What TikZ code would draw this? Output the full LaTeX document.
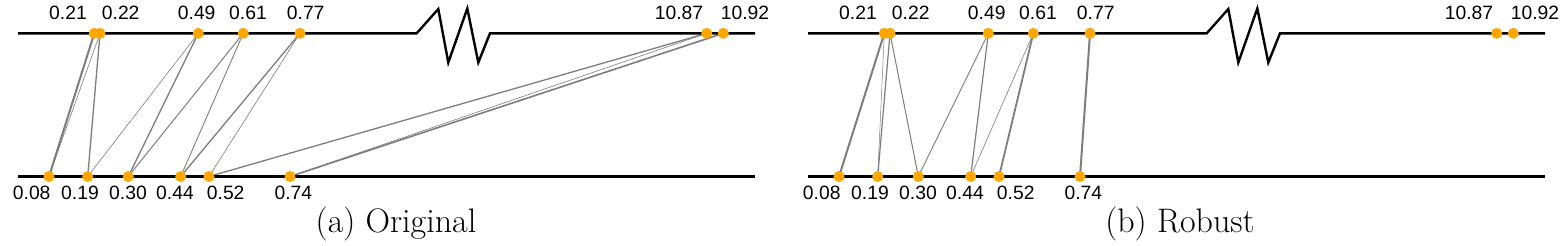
\documentclass[tikz,border=0pt]{standalone}
\usepackage{fontspec}
\newfontfamily\labelfont{Liberation Sans}
\usetikzlibrary{backgrounds}
\definecolor{dotorange}{RGB}{255,166,0}
\definecolor{linkgray}{RGB}{125,125,125}
\tikzset{
  axisline/.style={line width=2.4bp, black, line join=miter},
  dot/.style={circle, fill=dotorange, inner sep=0pt, minimum size=11bp},
  num/.style={font=\labelfont\fontsize{19.3bp}{21bp}\selectfont, anchor=base, inner sep=0pt},
  link/.style={draw=linkgray, line width=#1},
  captext/.style={font=\fontsize{34bp}{38bp}\selectfont, anchor=base, inner sep=0pt}
}
\newcommand\drawpanel[3]{%
\begin{scope}[xshift=#2]
  \draw[axisline] (18,33.3) -- (416.7,33.3) -- (438.3,9) -- (448.3,62.5) -- (467.3,8.5) -- (478.3,62.5) -- (490,33.3) -- (755,33.3);
  \draw[axisline] (18,176.5) -- (755,176.5);
  \foreach \n/\x/\lx/\t in {t021/94.3/68/0.21, t022/100/120.7/0.22, t049/198.3/196.7/0.49, t061/243.3/248/0.61, t077/300/305.7/0.77, t1087/706.7/679/10.87, t1092/723.3/745/10.92}{
    \node[dot] (#1\n) at (\x,33.3) {};
    \node[num] (#1\n l) at (\lx,19.3) {\t};
  }
  \foreach \n/\x/\lx/\t in {b008/49/31.7/0.08, b019/87.7/80/0.19, b030/128.3/128/0.30, b044/180.7/175/0.44, b052/209/225.7/0.52, b074/290/293.3/0.74}{
    \node[dot] (#1\n) at (\x,176.5) {};
    \node[num] (#1\n l) at (\lx,199) {\t};
  }
  \begin{pgfonlayer}{background}
    \foreach \s/\e/\w in {#3}{
      \draw[link=\w] (#1\s.center) -- (#1\e.center);
    }
  \end{pgfonlayer}
\end{scope}}
\begin{document}
\begin{tikzpicture}[x=1bp, y=-1bp]
  \useasboundingbox (0,0) rectangle (1568,245);
  \drawpanel{a}{0bp}{t021/b008/2bp, t022/b008/0.6bp, t022/b019/1.3bp, t049/b019/0.6bp, t049/b030/1.3bp, t061/b030/1.0bp, t061/b044/0.9bp, t077/b044/1.3bp, t077/b052/0.6bp, t1087/b052/1.3bp, t1087/b074/0.6bp, t1092/b074/1.6bp}
  \drawpanel{b}{790bp}{t021/b008/2bp, t021/b019/0.5bp, t022/b019/1.2bp, t022/b030/1.0bp, t049/b030/0.9bp, t049/b044/1.2bp, t061/b044/0.6bp, t061/b052/1.8bp, t077/b074/2bp}
  \node[captext] (capa) at (396,232) {(a) Original};
  \node[captext] (capb) at (1180,232) {(b) Robust};
\end{tikzpicture}
\end{document}
